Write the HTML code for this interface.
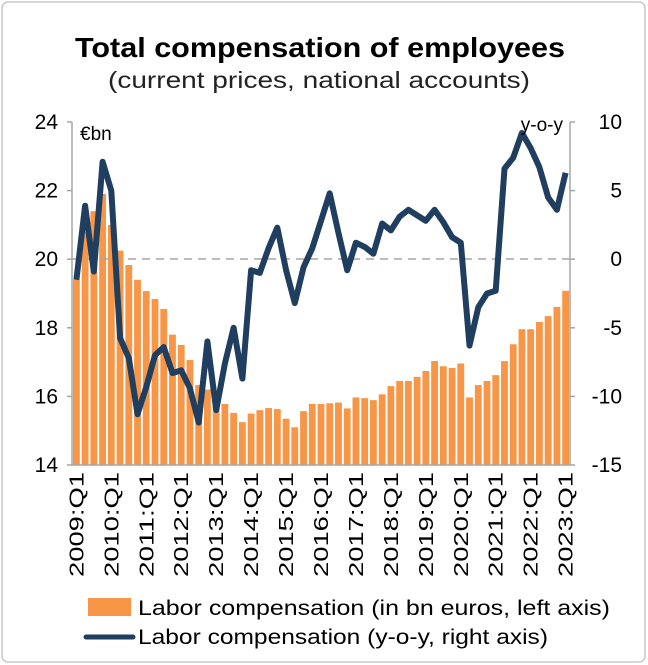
<!DOCTYPE html>
<html><head><meta charset="utf-8"><style>
html,body{margin:0;padding:0;background:#fff;}
svg{display:block;font-family:"Liberation Sans",sans-serif;}
</style></head><body>
<svg id="chart" width="648" height="665">
<rect x="2" y="2" width="643" height="660" rx="6" fill="#fff" stroke="#c8c8c8" stroke-width="1.5"/>
<text x="75" y="57" textLength="490" lengthAdjust="spacingAndGlyphs" font-size="28" font-weight="bold" fill="#000">Total compensation of employees</text>
<text x="108" y="88" textLength="422" lengthAdjust="spacingAndGlyphs" font-size="23" fill="#222">(current prices, national accounts)</text>
<g id="bars"></g>
<line x1="72" y1="259" x2="570" y2="259" stroke="#a6a6a6" stroke-width="1.5" stroke-dasharray="8,6"/>
<g id="axes"></g>
<path id="line" fill="none" stroke="#203f60" stroke-width="6" stroke-linejoin="round"/>
<text x="80" y="140" font-size="19" fill="#000">€bn</text>
<text x="563" y="131" text-anchor="end" font-size="19" fill="#000">y-o-y</text>
<g>
<rect x="88" y="598" width="43" height="18" fill="#f79646"/>
<text x="138" y="615" textLength="472" lengthAdjust="spacingAndGlyphs" font-size="21" fill="#000">Labor compensation (in bn euros, left axis)</text>
<line x1="86" y1="637" x2="133" y2="637" stroke="#203f60" stroke-width="5" stroke-linecap="round"/>
<text x="138" y="644" textLength="410" lengthAdjust="spacingAndGlyphs" font-size="21" fill="#000">Labor compensation (y-o-y, right axis)</text>
</g>
</svg>
<script>
const comp = [19.4,20.8,21.4,21.9,21.0,20.25,19.83,19.4,19.07,18.84,18.55,17.8,17.5,17.06,16.33,16.2,15.9,15.78,15.52,15.25,15.5,15.6,15.66,15.63,15.35,15.1,15.57,15.78,15.78,15.8,15.82,15.65,15.97,15.95,15.89,16.06,16.3,16.45,16.45,16.57,16.74,17.03,16.88,16.83,16.96,15.97,16.33,16.45,16.62,17.03,17.52,17.96,17.96,18.17,18.34,18.61,19.08];
const yoy = [-1.5,3.9,-0.9,7.1,5.0,-5.75,-7.2,-11.3,-9.3,-7.0,-6.4,-8.3,-8.1,-9.4,-11.9,-6.0,-11.0,-7.6,-5.0,-8.7,-0.8,-1.0,0.8,2.3,-0.8,-3.2,-0.6,0.8,2.8,4.8,1.9,-0.8,1.2,0.9,0.4,2.6,2.1,3.1,3.6,3.2,2.8,3.6,2.7,1.6,1.2,-6.3,-3.5,-2.5,-2.3,6.6,7.4,9.2,8.1,6.7,4.5,3.6,6.3];
const leftTicks = [14,16,18,20,22,24];
const rightTicks = [-15,-10,-5,0,5,10];
const years = ["2009","2010","2011","2012","2013","2014","2015","2016","2017","2018","2019","2020","2021","2022","2023"];
const NS="http://www.w3.org/2000/svg";
const X0=72,X1=570,YT=122,YB=465;
const slot=(X1-X0)/comp.length;
const xc=i=>X0+(i+0.5)*slot;
const yL=v=>YB-(v-14)/(24-14)*(YB-YT);
const yR=v=>YB-(v+15)/(10+15)*(YB-YT);
function mk(tag,attrs,parent){const e=document.createElementNS(NS,tag);for(const k in attrs)e.setAttribute(k,attrs[k]);parent.appendChild(e);return e;}
const bars=document.getElementById('bars');
comp.forEach((v,i)=>{
 const r=mk('rect',{x:xc(i)-slot*0.39,y:yL(v),width:slot*0.78,height:YB-yL(v),fill:'#f79646'},bars);
 
 
});
const ax=document.getElementById('axes');
let a=mk('line',{x1:X0,y1:YT,x2:X0,y2:YB,stroke:'#a6a6a6','stroke-width':1.5},ax);


a=mk('line',{x1:X1,y1:YT,x2:X1,y2:YB,stroke:'#a6a6a6','stroke-width':1.5},ax);


a=mk('line',{x1:X0,y1:YB,x2:X1,y2:YB,stroke:'#a6a6a6','stroke-width':1.5},ax);


leftTicks.forEach(t=>{
 mk('line',{x1:X0-5,y1:yL(t),x2:X0,y2:yL(t),stroke:'#a6a6a6','stroke-width':1.5},ax);
 const tx=mk('text',{x:X0-14,y:yL(t)+7,'text-anchor':'end','font-size':21,fill:'#000'},ax);
 tx.textContent=t;
 
 
});
rightTicks.forEach(t=>{
 mk('line',{x1:X1,y1:yR(t),x2:X1+5,y2:yR(t),stroke:'#a6a6a6','stroke-width':1.5},ax);
 const tx=mk('text',{x:X1+52,y:yR(t)+7,'text-anchor':'end','font-size':21,fill:'#000'},ax);
 tx.textContent=t;
 
 
});
years.forEach((yr,k)=>{
 const x=xc(k*4)+7;
 const tx=mk('text',{x:x,y:472,'text-anchor':'end','font-size':20,textLength:105,lengthAdjust:'spacingAndGlyphs',fill:'#000',transform:`rotate(-90 ${x} 472)`},ax);
 tx.textContent=yr+':Q1';
 
 
});
document.getElementById('line').setAttribute('d',yoy.map((v,i)=>(i?'L':'M')+xc(i).toFixed(1)+' '+yR(v).toFixed(1)).join(' '));
</script>
</body></html>
